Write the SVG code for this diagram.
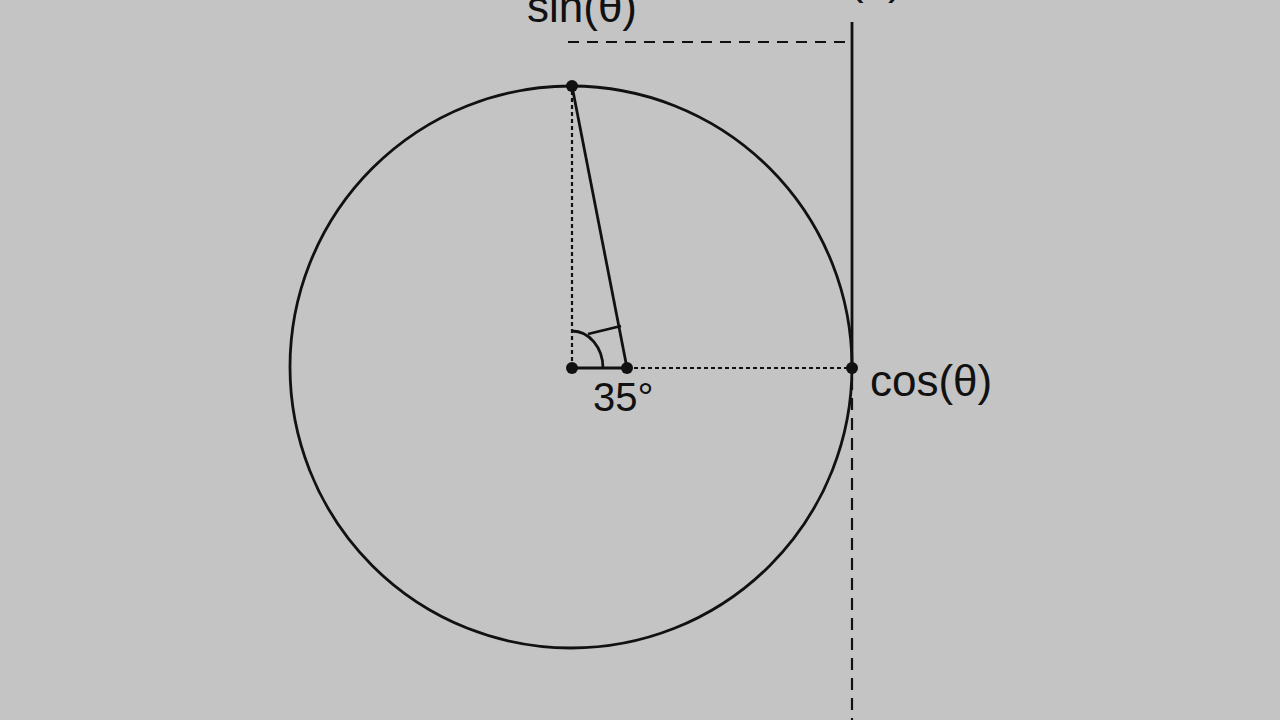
<svg xmlns="http://www.w3.org/2000/svg" width="1280" height="720" viewBox="0 0 1280 720">
<style>
.ln{fill:none;stroke:#111;stroke-width:2.8}
.thin{fill:none;stroke:#111;stroke-width:2.2}
.dot{fill:#111}
.lbl{font-family:"Liberation Sans",Arial,sans-serif;font-size:44px;fill:#111}
</style>
<rect width="1280" height="720" fill="#c4c4c4"/>
<g id="circle"><circle cx="571" cy="367" r="281" class="ln"/></g>
<g id="connectors">
<line x1="572" y1="368" x2="572" y2="86" class="thin" stroke-dasharray="4,3"/>
<line x1="627" y1="368" x2="852" y2="368" class="thin" stroke-dasharray="4,3"/>
<line x1="572" y1="368" x2="627" y2="368" class="ln"/>
<line x1="627" y1="368" x2="572" y2="86" class="ln"/>
<line x1="568" y1="42" x2="850" y2="42" class="thin" stroke-dasharray="11,8"/>
<line x1="852" y1="22" x2="852" y2="374" class="ln"/>
<line x1="852" y1="378" x2="852" y2="720" class="thin" stroke-dasharray="12,8"/>
<path d="M572,331 A31,37 0 0 1 603,368" class="ln"/>
<line x1="588" y1="334" x2="621" y2="326" class="ln"/>
</g>
<g id="points">
<circle cx="572" cy="368" r="6" class="dot"/>
<circle cx="627" cy="368" r="6" class="dot"/>
<circle cx="572" cy="86" r="6" class="dot"/>
<circle cx="852" cy="368" r="6" class="dot"/>
</g>
<g id="labels">
<text x="527" y="22" class="lbl">sin(θ)</text>
<text x="870" y="396" class="lbl">cos(θ)</text>
<text x="593" y="411" class="lbl" style="font-size:40px">35°</text>
<text x="849" y="-6" class="lbl">(θ)</text>
</g>
</svg>
